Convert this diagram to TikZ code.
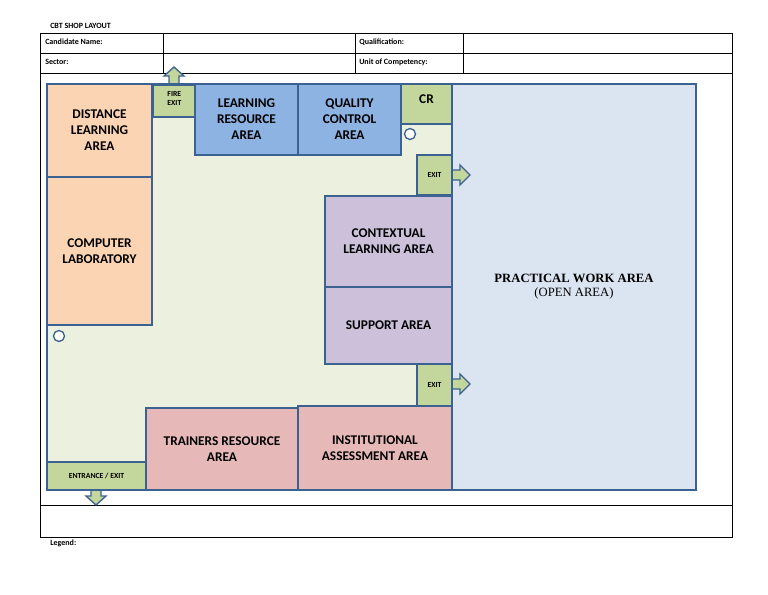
\documentclass[tikz,border=0pt]{standalone}
\usepackage{fontspec}
\setmainfont{Carlito}
\newfontfamily\serifx{Liberation Serif}
\begin{document}
\begin{tikzpicture}[x=0.75pt,y=-0.75pt,
  room/.style={wall, inner sep=0pt, font=\bfseries\fontsize{10}{12}\selectfont, align=center},
  tbl/.style={draw=black, line width=0.6pt},
  lbl/.style={font=\bfseries\fontsize{6}{7}\selectfont, anchor=west, inner sep=0pt},
  small/.style={font=\bfseries\fontsize{5.8}{6.5}\selectfont}]
\definecolor{bdr}{HTML}{3B6290}
\definecolor{floorc}{HTML}{EBF1DE}
\definecolor{prac}{HTML}{DBE5F1}
\definecolor{peach}{HTML}{FBD4B4}
\definecolor{bluer}{HTML}{8DB3E2}
\definecolor{greenr}{HTML}{C3D69B}
\definecolor{lav}{HTML}{CCC0DA}
\definecolor{pink}{HTML}{E6B9B8}
\tikzset{wall/.style={draw=bdr, line width=1.3pt}}
\useasboundingbox (0,0) rectangle (768,594);
% header table
\node[lbl] (title) at (50,26) {CBT SHOP LAYOUT};
\draw[tbl] (40,33) rectangle (732,537);
\draw[tbl] (40,53) -- (732,53) (40,73) -- (732,73) (40,505) -- (732,505);
\draw[tbl] (163,33) -- (163,73) (355,33) -- (355,73) (463,33) -- (463,73);
\node[lbl] (cn) at (45,42) {Candidate Name:};
\node[lbl] (sec) at (45,62) {Sector:};
\node[lbl] (qual) at (359,42) {Qualification:};
\node[lbl] (uoc) at (359,62) {Unit of Competency:};
\node[lbl] (leg) at (50,543) {Legend:};
% floor
\fill[floorc] (47,84) rectangle (452,490);
\node[room, fill=prac, minimum width=244*0.75pt, minimum height=406*0.75pt, font=\serifx\fontsize{9.5}{10.5}\selectfont] (prac) at (574,287) {\textbf{PRACTICAL WORK AREA}\\(OPEN AREA)};
% arrows
\draw[wall, line width=1pt, fill=greenr] (169,84) -- (169,76) -- (164,76) -- (174,67) -- (184,76) -- (179,76) -- (179,84);
\draw[wall, line width=1pt, fill=greenr] (452,170) -- (460,170) -- (460,165) -- (470,175) -- (460,185) -- (460,180) -- (452,180);
\draw[wall, line width=1pt, fill=greenr] (452,379) -- (460,379) -- (460,374) -- (470,384) -- (460,394) -- (460,389) -- (452,389);
\draw[wall, line width=1pt, fill=greenr] (91,490) -- (91,496) -- (86,496) -- (96,505) -- (106,496) -- (101,496) -- (101,490);
% rooms
\node[room, fill=peach, minimum width=105*0.75pt, minimum height=93*0.75pt] (dl) at (99.5,130.5) {DISTANCE\\LEARNING\\AREA};
\node[room, fill=peach, minimum width=105*0.75pt, minimum height=148*0.75pt] (cl) at (99.5,251) {COMPUTER\\LABORATORY};
\node[room, fill=greenr, minimum width=43*0.75pt, minimum height=32*0.75pt, small, anchor=north west] (fe) at (152,84) {\raisebox{4pt}{\shortstack{FIRE\\EXIT}}};
\node[room, fill=bluer, minimum width=103*0.75pt, minimum height=71*0.75pt] (lr) at (246.5,119.5) {LEARNING\\RESOURCE\\AREA};
\node[room, fill=bluer, minimum width=103*0.75pt, minimum height=71*0.75pt] (qc) at (349.5,119.5) {QUALITY\\CONTROL\\AREA};
\node[room, fill=greenr, minimum width=51*0.75pt, minimum height=40*0.75pt] (cr) at (426.5,104) {\raisebox{8pt}{CR}};
\node[room, fill=greenr, minimum width=35*0.75pt, minimum height=40*0.75pt, small] (ex1) at (434.5,175) {EXIT};
\node[room, fill=lav, minimum width=127*0.75pt, minimum height=91*0.75pt] (ctx) at (388.5,241.5) {CONTEXTUAL\\LEARNING AREA};
\node[room, fill=lav, minimum width=127*0.75pt, minimum height=77*0.75pt] (sup) at (388.5,325.5) {SUPPORT AREA};
\node[room, fill=greenr, minimum width=35*0.75pt, minimum height=42*0.75pt, small] (ex2) at (434.5,385) {EXIT};
\node[room, fill=pink, minimum width=152*0.75pt, minimum height=82*0.75pt] (tr) at (222,449) {TRAINERS RESOURCE\\AREA};
\node[room, fill=pink, minimum width=154*0.75pt, minimum height=84*0.75pt] (ia) at (375,448) {INSTITUTIONAL\\ASSESSMENT AREA};
\node[room, fill=greenr, minimum width=99*0.75pt, minimum height=28*0.75pt, small] (ent) at (96.5,476) {ENTRANCE / EXIT};
\draw[wall] (47,84) rectangle (696,490);
\draw[wall, fill=white, line width=1pt] (410,134) circle[radius=5.5];
\draw[wall, fill=white, line width=1pt] (59,336) circle[radius=5.5];
\end{tikzpicture}
\end{document}
